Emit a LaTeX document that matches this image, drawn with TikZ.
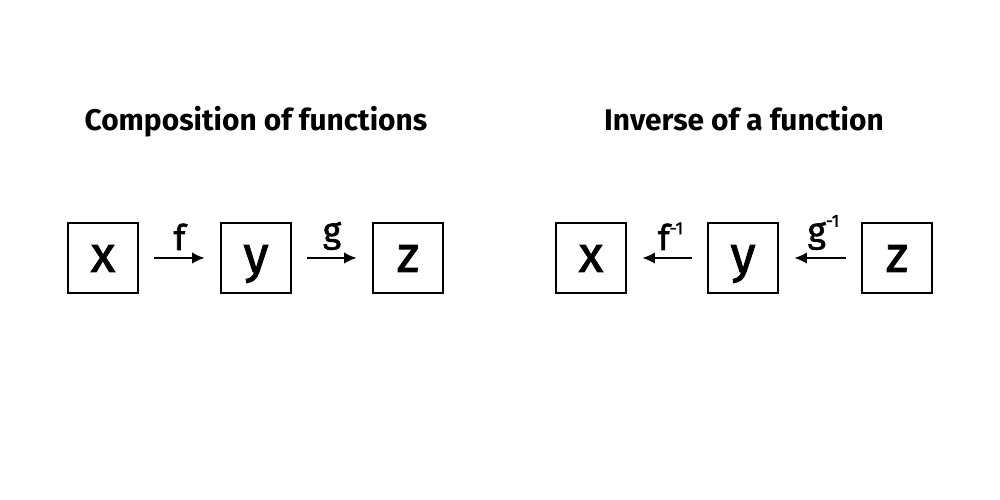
\documentclass[tikz,border=0pt]{standalone}
\usepackage{fontspec}
\setmainfont{Fira Sans}
\newfontfamily\medfont[FakeBold=1.6]{Fira Sans}
\usetikzlibrary{calc,arrows.meta}

\tikzset{
  fbox/.style={draw,line width=1.6pt,minimum width=1.4cm,minimum height=1.4cm,
    text height=0.81cm,text depth=0.25cm,font=\medfont\fontsize{29}{30}\selectfont},
  fmap/.style={-{Latex[length=2.5mm,width=2.3mm]},line width=1.1pt,shorten <=0.3cm,shorten >=0.3cm},
  flabel/.style={font=\medfont\fontsize{20}{21}\selectfont,inner sep=4pt},
  ftitle/.style={anchor=base,font=\fontsize{17}{18}\selectfont\bfseries}
}

\begin{document}
\begin{tikzpicture}
\useasboundingbox (0,0) rectangle (20,10);

% composition
\begin{scope}
\node (ctitle) at (5.12,7.38)[ftitle]{Composition of functions};
\node (cx) at (2.06,4.84)[fbox]{x};
\node (cy) at (5.12,4.84)[fbox]{y};
\node (cz) at (8.16,4.84)[fbox]{z};
\draw[fmap] (cx) -- node[above,flabel]{f} (cy);
\draw[fmap] (cy) -- node[above,flabel]{g} (cz);
\end{scope}

% inverse
\begin{scope}
\node (ititle) at (14.88,7.38)[ftitle]{Inverse of a function};
\node (ix) at (11.82,4.84)[fbox]{x};
\node (iy) at (14.86,4.84)[fbox]{y};
\node (iz) at (17.94,4.84)[fbox]{z};
\draw[fmap] (iy) -- node[above,flabel,xshift=2pt]{f\raisebox{0.85ex}{\fontsize{10}{10}\selectfont -1}} (ix);
\draw[fmap] (iz) -- node[above,flabel,xshift=2pt]{g\raisebox{0.85ex}{\fontsize{10}{10}\selectfont -1}} (iy);
\end{scope}
\end{tikzpicture}
\end{document}
